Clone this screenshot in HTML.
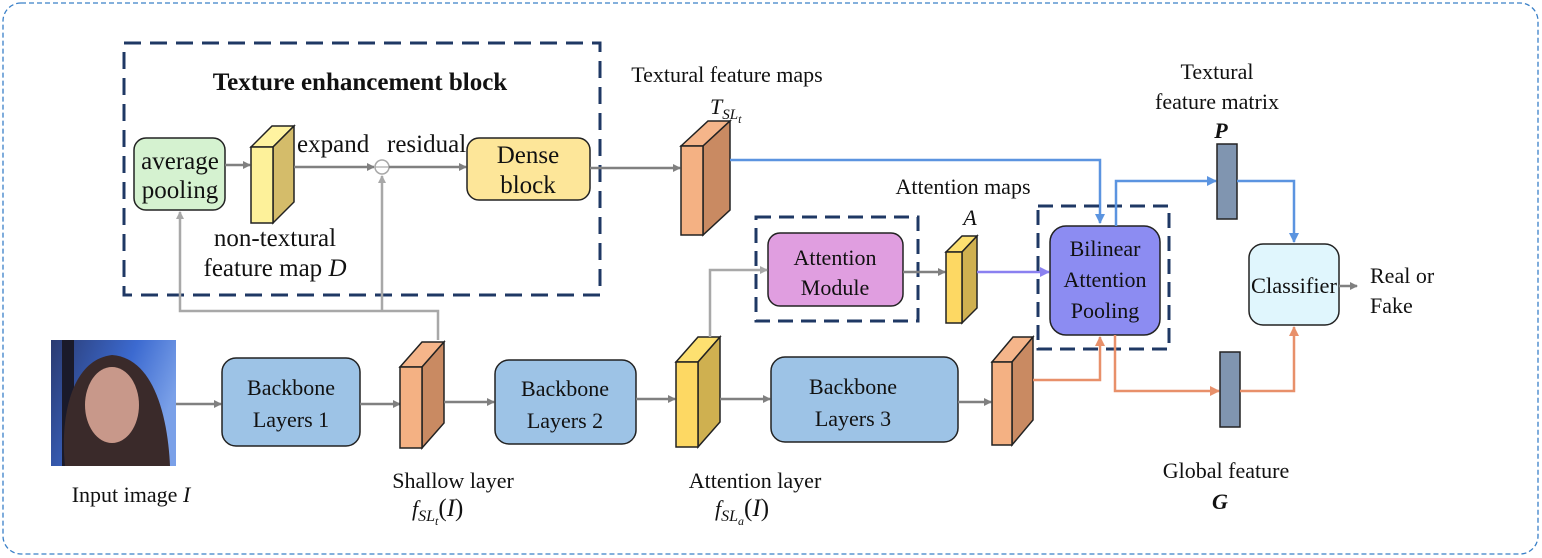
<!DOCTYPE html>
<html><head><meta charset="utf-8"><style>
html,body{margin:0;padding:0;background:#fff}
svg{display:block}
text{font-family:"Liberation Serif",serif;font-size:22px;fill:#111}
.b{font-size:25px}
</style></head><body>
<svg width="1542" height="558" viewBox="0 0 1542 558" xmlns="http://www.w3.org/2000/svg">
<defs>
<marker id="ag" markerWidth="8" markerHeight="8" refX="7" refY="4" orient="auto" markerUnits="userSpaceOnUse"><path d="M0,0 L8,4 L0,8z" fill="#808080"/></marker>
<marker id="al" markerWidth="8" markerHeight="8" refX="7" refY="4" orient="auto" markerUnits="userSpaceOnUse"><path d="M0,0 L8,4 L0,8z" fill="#a8a8a8"/></marker>
<marker id="ab" markerWidth="10" markerHeight="10" refX="9" refY="5" orient="auto" markerUnits="userSpaceOnUse"><path d="M0,0 L10,5 L0,10z" fill="#5b94e0"/></marker>
<marker id="ao" markerWidth="10" markerHeight="10" refX="9" refY="5" orient="auto" markerUnits="userSpaceOnUse"><path d="M0,0 L10,5 L0,10z" fill="#e8906a"/></marker>
<marker id="ap" markerWidth="10" markerHeight="10" refX="9" refY="5" orient="auto" markerUnits="userSpaceOnUse"><path d="M0,0 L10,5 L0,10z" fill="#8a80f0"/></marker>
<linearGradient id="face" x1="0" y1="0" x2="1" y2="0.4"><stop offset="0" stop-color="#2a3a70"/><stop offset="0.6" stop-color="#3c6ad0"/><stop offset="1" stop-color="#7aa0e8"/></linearGradient>
</defs>
<rect x="3" y="3" width="1535" height="551" rx="18" fill="none" stroke="#3a80c8" stroke-width="1.3" stroke-dasharray="5,3"/>

<!-- texture block -->
<rect x="124" y="43" width="476" height="252" fill="none" stroke="#1f3864" stroke-width="3" stroke-dasharray="17,9"/>
<text x="360" y="90" text-anchor="middle" class="b" font-weight="bold">Texture enhancement block</text>
<rect x="134" y="138" width="91" height="72" rx="12" fill="#d5f2d0" stroke="#222" stroke-width="1.5"/>
<text x="180" y="169" text-anchor="middle" class="b">average</text>
<text x="180" y="198" text-anchor="middle" class="b">pooling</text>
<line x1="225" y1="165" x2="250" y2="165" stroke="#808080" stroke-width="2.5" marker-end="url(#ag)"/>
<g stroke="#222" stroke-width="1.5"><polygon points="251,147 272,126 294,126 273,147" fill="#fff3a0"/><polygon points="273,147 294,126 294,202 273,223" fill="#d4bc6a"/><rect x="251" y="147" width="22" height="76" fill="#fdf19a"/></g>
<text x="297" y="152" class="b">expand</text>
<text x="387" y="152" class="b">residual</text>
<line x1="294" y1="167" x2="374" y2="167" stroke="#808080" stroke-width="2.5" marker-end="url(#ag)"/>
<circle cx="382" cy="167" r="7" fill="#fff" stroke="#a8a8a8" stroke-width="1.5"/>
<line x1="375" y1="167" x2="389" y2="167" stroke="#a8a8a8" stroke-width="1.2"/>
<line x1="389" y1="167" x2="466" y2="167" stroke="#808080" stroke-width="2.5" marker-end="url(#ag)"/>
<rect x="467" y="138" width="123" height="62" rx="12" fill="#fde699" stroke="#222" stroke-width="1.5"/>
<text x="528" y="163" text-anchor="middle" class="b">Dense</text>
<text x="528" y="193" text-anchor="middle" class="b">block</text>
<text x="275" y="246" text-anchor="middle" class="b">non-textural</text>
<text x="275" y="276" text-anchor="middle" class="b">feature map <tspan font-style="italic">D</tspan></text>
<polyline points="438,340 438,311 180,311 180,212" fill="none" stroke="#a8a8a8" stroke-width="2.5" marker-end="url(#al)"/>
<polyline points="382,311 382,176" fill="none" stroke="#a8a8a8" stroke-width="2.5" marker-end="url(#al)"/>

<line x1="590" y1="168" x2="680" y2="168" stroke="#808080" stroke-width="2.5" marker-end="url(#ag)"/>
<g stroke="#222" stroke-width="1.5"><polygon points="681,146 708,121 730,121 703,146" fill="#f5b58a"/><polygon points="703,146 730,121 730,210 703,235" fill="#c98a62"/><rect x="681" y="146" width="22" height="89" fill="#f4b183"/></g>
<text x="727" y="82" text-anchor="middle" font-size="24">Textural feature maps</text>
<text x="710" y="114" font-style="italic" font-size="24">T<tspan font-size="15" dy="5">SL</tspan><tspan font-size="12" dy="4">t</tspan></text>
<polyline points="730,160 1100,160 1100,223" fill="none" stroke="#5b94e0" stroke-width="2.5" marker-end="url(#ab)"/>

<!-- attention module -->
<rect x="756" y="217" width="162" height="104" fill="none" stroke="#1f3864" stroke-width="3" stroke-dasharray="15,8"/>
<rect x="768" y="233" width="135" height="73" rx="12" fill="#e09ee0" stroke="#222" stroke-width="1.5"/>
<text x="835" y="265" text-anchor="middle" font-size="23">Attention</text>
<text x="835" y="295" text-anchor="middle" font-size="23">Module</text>
<line x1="903" y1="272" x2="945" y2="272" stroke="#808080" stroke-width="2.5" marker-end="url(#ag)"/>
<g stroke="#222" stroke-width="1.5"><polygon points="946,252 962,236 977,236 962,252" fill="#fde070"/><polygon points="962,252 977,236 977,308 962,323" fill="#cfb050"/><rect x="946" y="252" width="16" height="71" fill="#fdd863"/></g>
<text x="963" y="194" text-anchor="middle" font-size="23">Attention maps</text>
<text x="970" y="225" text-anchor="middle" font-style="italic" font-size="23">A</text>
<line x1="977" y1="272" x2="1049" y2="272" stroke="#8a80f0" stroke-width="2.5" marker-end="url(#ap)"/>

<!-- bilinear -->
<rect x="1038" y="206" width="131" height="143" fill="none" stroke="#1f3864" stroke-width="3" stroke-dasharray="15,8"/>
<rect x="1050" y="226" width="110" height="109" rx="16" fill="#8c8cf2" stroke="#222" stroke-width="1.5"/>
<text x="1105" y="256" text-anchor="middle">Bilinear</text>
<text x="1105" y="287" text-anchor="middle">Attention</text>
<text x="1105" y="318" text-anchor="middle">Pooling</text>
<polyline points="1116,226 1116,181 1216,181" fill="none" stroke="#5b94e0" stroke-width="2.5" marker-end="url(#ab)"/>
<rect x="1217" y="144" width="20" height="75" fill="#8095b0" stroke="#222" stroke-width="1.5"/>
<text x="1217" y="79" text-anchor="middle">Textural</text>
<text x="1217" y="109" text-anchor="middle">feature matrix</text>
<text x="1221" y="138" text-anchor="middle" font-style="italic" font-weight="bold">P</text>
<polyline points="1237,181 1294,181 1294,242" fill="none" stroke="#5b94e0" stroke-width="2.5" marker-end="url(#ab)"/>
<rect x="1249" y="244" width="90" height="81" rx="14" fill="#e0f6fd" stroke="#222" stroke-width="1.5"/>
<text x="1294" y="293" text-anchor="middle" font-size="23" textLength="86" lengthAdjust="spacingAndGlyphs">Classifier</text>
<line x1="1339" y1="286" x2="1357" y2="286" stroke="#808080" stroke-width="2.5" marker-end="url(#ag)"/>
<text x="1370" y="283">Real or</text>
<text x="1370" y="313">Fake</text>
<polyline points="1115,335 1115,391 1219,391" fill="none" stroke="#e8906a" stroke-width="2.5" marker-end="url(#ao)"/>
<rect x="1220" y="352" width="20" height="75" fill="#8095b0" stroke="#222" stroke-width="1.5"/>
<polyline points="1240,391 1294,391 1294,327" fill="none" stroke="#e8906a" stroke-width="2.5" marker-end="url(#ao)"/>
<text x="1226" y="478" text-anchor="middle">Global feature</text>
<text x="1220" y="509" text-anchor="middle" font-style="italic" font-weight="bold">G</text>

<!-- bottom row -->
<rect x="51" y="340" width="125" height="126" fill="url(#face)"/>
<rect x="62" y="340" width="12" height="126" fill="#1a1a2a"/>
<path d="M65,466 C60,420 70,360 112,355 C155,358 168,420 170,466 Z" fill="#3a2a2a"/>
<ellipse cx="112" cy="405" rx="27" ry="38" fill="#c8988a"/>
<text x="131" y="502" text-anchor="middle" font-size="24">Input image <tspan font-style="italic">I</tspan></text>
<line x1="176" y1="404" x2="221" y2="404" stroke="#808080" stroke-width="2.5" marker-end="url(#ag)"/>
<rect x="222" y="358" width="138" height="88" rx="14" fill="#9dc3e6" stroke="#222" stroke-width="1.5"/>
<text x="291" y="395" text-anchor="middle" font-size="23">Backbone</text>
<text x="291" y="427" text-anchor="middle" font-size="23">Layers 1</text>
<line x1="360" y1="404" x2="400" y2="404" stroke="#808080" stroke-width="2.5" marker-end="url(#ag)"/>
<g stroke="#222" stroke-width="1.5"><polygon points="400,367 422,342 444,342 422,367" fill="#f5b58a"/><polygon points="422,367 444,342 444,423 422,448" fill="#c98a62"/><rect x="400" y="367" width="22" height="81" fill="#f4b183"/></g>
<line x1="444" y1="402" x2="494" y2="402" stroke="#808080" stroke-width="2.5" marker-end="url(#ag)"/>
<rect x="495" y="360" width="141" height="84" rx="14" fill="#9dc3e6" stroke="#222" stroke-width="1.5"/>
<text x="565" y="396" text-anchor="middle" font-size="23">Backbone</text>
<text x="565" y="428" text-anchor="middle" font-size="23">Layers 2</text>
<line x1="636" y1="399" x2="675" y2="399" stroke="#808080" stroke-width="2.5" marker-end="url(#ag)"/>
<g stroke="#222" stroke-width="1.5"><polygon points="676,362 698,337 720,337 698,362" fill="#fde070"/><polygon points="698,362 720,337 720,422 698,447" fill="#cfb050"/><rect x="676" y="362" width="22" height="85" fill="#fdd863"/></g>
<polyline points="710,337 710,270 767,270" fill="none" stroke="#a8a8a8" stroke-width="2.5" marker-end="url(#al)"/>
<line x1="720" y1="399" x2="770" y2="399" stroke="#808080" stroke-width="2.5" marker-end="url(#ag)"/>
<rect x="771" y="357" width="187" height="85" rx="14" fill="#9dc3e6" stroke="#222" stroke-width="1.5"/>
<text x="853" y="394" text-anchor="middle" font-size="23">Backbone</text>
<text x="853" y="426" text-anchor="middle" font-size="23">Layers 3</text>
<line x1="958" y1="402" x2="991" y2="402" stroke="#808080" stroke-width="2.5" marker-end="url(#ag)"/>
<g stroke="#222" stroke-width="1.5"><polygon points="992,362 1013,337 1033,337 1012,362" fill="#f5b58a"/><polygon points="1012,362 1033,337 1033,420 1012,445" fill="#c98a62"/><rect x="992" y="362" width="20" height="83" fill="#f4b183"/></g>
<polyline points="1033,380 1100,380 1100,337" fill="none" stroke="#e8906a" stroke-width="2.5" marker-end="url(#ao)"/>

<text x="453" y="488" text-anchor="middle" font-size="24">Shallow layer</text>
<text x="412" y="516" font-style="italic" font-size="25">f<tspan font-size="16" dy="5">SL</tspan><tspan font-size="12" dy="4">t</tspan><tspan font-style="normal" font-size="25" dy="-9">(</tspan><tspan font-size="25">I</tspan><tspan font-style="normal" font-size="25">)</tspan></text>
<text x="755" y="488" text-anchor="middle" font-size="24">Attention layer</text>
<text x="715" y="516" font-style="italic" font-size="25">f<tspan font-size="16" dy="5">SL</tspan><tspan font-size="12" dy="4">a</tspan><tspan font-style="normal" font-size="25" dy="-9">(</tspan><tspan font-size="25">I</tspan><tspan font-style="normal" font-size="25">)</tspan></text>
</svg>
</body></html>
